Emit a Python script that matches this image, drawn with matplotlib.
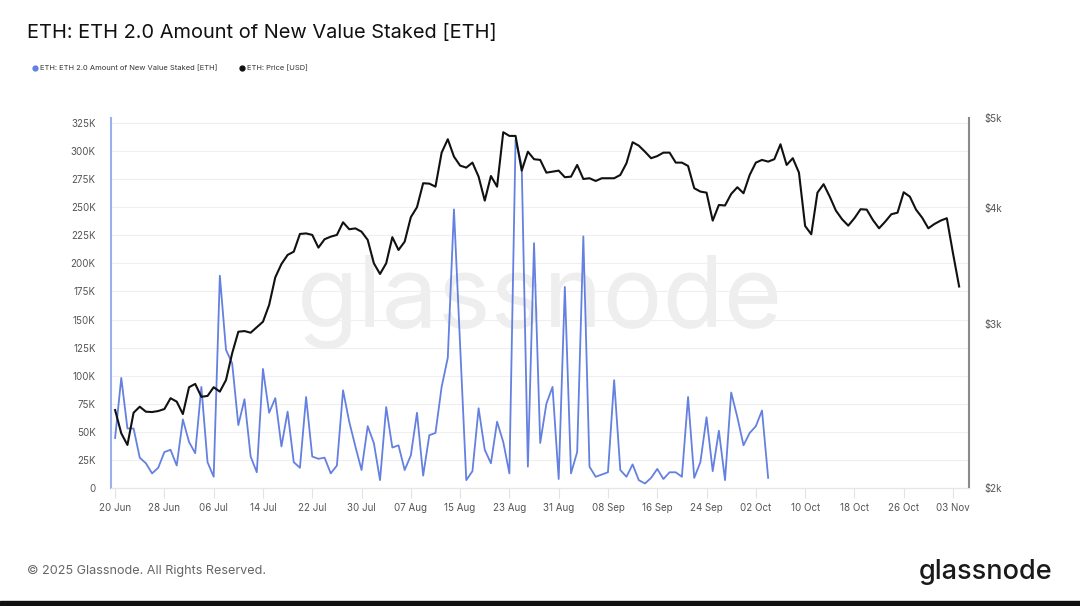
import numpy as np
import pandas as pd
import matplotlib
matplotlib.use("Agg")
import matplotlib.pyplot as plt
import matplotlib.dates as mdates
from matplotlib.lines import Line2D
from matplotlib.patches import Rectangle
from matplotlib.ticker import FixedLocator, FuncFormatter, NullLocator

plt.rcParams["font.family"] = ["Inter", "DejaVu Sans"]

START = "2025-06-20"

# new value staked per day, thousands of ETH (from 20 Jun)
staked_k = [44.5, 98, 53, 53, 27, 22, 13, 18, 32, 34,
            20, 61, 41, 31, 90, 23, 10, 189, 123, 111,
            56, 79, 28, 14, 106, 67, 80, 37, 68, 23,
            18, 81, 28, 26, 27, 13, 20, 87, 59, 37,
            16, 55, 40, 7, 72, 36, 38, 16, 29, 67,
            11, 47, 49, 90, 116, 248, 127, 7, 15, 71,
            34, 22, 59, 41, 13, 310, 287, 19, 218, 40,
            75, 90, 8, 179, 13, 32, 224, 19, 10, 12,
            14, 96, 16, 10, 21, 7, 4, 9, 17, 8,
            14, 14, 10, 81, 9, 23, 63, 15, 51, 7,
            85, 63, 38, 49, 55, 69, 9]

# ETH price, USD (from 20 Jun)
price_usd = [2426, 2290, 2225, 2410, 2446, 2416, 2414, 2420, 2432, 2498,
             2477, 2402, 2567, 2588, 2507, 2512, 2567, 2539, 2613, 2792,
             2945, 2950, 2938, 2978, 3019, 3147, 3370, 3483, 3562, 3591,
             3752, 3757, 3743, 3627, 3703, 3727, 3743, 3862, 3796, 3804,
             3773, 3697, 3489, 3398, 3489, 3722, 3606, 3681, 3911, 4009,
             4254, 4250, 4218, 4589, 4744, 4544, 4444, 4422, 4477, 4324,
             4075, 4331, 4218, 4827, 4783, 4783, 4389, 4600, 4515, 4507,
             4367, 4378, 4389, 4318, 4324, 4451, 4299, 4307, 4278, 4307,
             4307, 4307, 4342, 4470, 4709, 4669, 4600, 4526, 4550, 4589,
             4589, 4477, 4477, 4440, 4202, 4167, 4156, 3878, 4031, 4026,
             4143, 4212, 4150, 4342, 4477, 4507, 4488, 4515, 4685, 4451,
             4526, 4367, 3827, 3749, 4156, 4244, 4115, 3975, 3891, 3830,
             3901, 3989, 3985, 3884, 3805, 3868, 3940, 3955, 4160, 4115,
             3985, 3906, 3805, 3846, 3878, 3901, 3577, 3294]

left_ticks = list(range(0, 325001, 25000))
right_ticks = [2000, 3000, 4000, 5000]
right_labels = ["$2k", "$3k", "$4k", "$5k"]

BLUE = "#6480e0"
GRAY_TXT = "#555555"

staked_dates = pd.date_range(START, periods=len(staked_k), freq="D")
price_dates = pd.date_range(START, periods=len(price_usd), freq="D")
staked = np.asarray(staked_k) * 1000

fig = plt.figure(figsize=(10.8, 6.06), dpi=100)
ax = fig.add_axes([111 / 1080, 1 - 488 / 606, 858 / 1080, 370 / 606])
ax2 = ax.twinx()

ax.plot(staked_dates, staked, color=BLUE, linewidth=1.3, zorder=3)
ax2.plot(price_dates, price_usd, color="#111111", linewidth=1.5, zorder=4)

t0 = pd.Timestamp(START)
ax.set_xlim(t0 - pd.Timedelta(hours=16), t0 + pd.Timedelta(days=138.6))
ax.set_ylim(0, 329400)
ax.yaxis.set_major_locator(FixedLocator(left_ticks))
ax.yaxis.set_major_formatter(FuncFormatter(lambda v, p: "0" if v == 0 else f"{int(v / 1000)}K"))
ax.grid(axis="y", color="#efefef", linewidth=0.8, zorder=0)
ax.tick_params(axis="y", length=0, pad=11, labelsize=7, labelcolor=GRAY_TXT)

# date ticks every 8 days
ticks = pd.date_range(START, "2025-11-03", freq="8D")
ax.xaxis.set_major_locator(FixedLocator(mdates.date2num(ticks)))
ax.xaxis.set_major_formatter(mdates.DateFormatter("%d %b"))
ax.tick_params(axis="x", length=7, color="#e3e3e3", width=0.8, pad=4,
               labelsize=7, labelcolor=GRAY_TXT)

ax2.set_yscale("log")
ax2.set_ylim(2000, 5000)
ax2.yaxis.set_major_locator(FixedLocator(right_ticks))
ax2.yaxis.set_major_formatter(FuncFormatter(lambda v, p: right_labels[right_ticks.index(int(round(v)))]))
ax2.yaxis.set_minor_locator(NullLocator())
ax2.tick_params(axis="y", length=0, pad=11, labelsize=7, labelcolor=GRAY_TXT)

for a in (ax, ax2):
    a.spines["top"].set_visible(False)
    a.spines["bottom"].set_color("#e6e6e6")
ax.spines["right"].set_visible(False)
ax.spines["left"].set_color("#9db0ee")
ax.spines["left"].set_linewidth(1.5)
ax2.spines["left"].set_visible(False)
ax2.spines["right"].set_color("#8a8a8a")
ax2.spines["right"].set_linewidth(1.5)

# watermark
ax.text(0.5, 0.435, "glassnode", transform=ax.transAxes, ha="center", va="baseline",
        fontsize=72, color="#eeeeee", zorder=1)

fig.text(27 / 1080, 1 - 33 / 606, "ETH: ETH 2.0 Amount of New Value Staked [ETH]",
         fontsize=14.4, color="#111111", va="center", ha="left")

# legend
fig.add_artist(Line2D([35 / 1080], [1 - 68 / 606], marker="o", markersize=3.5,
                      color=BLUE, transform=fig.transFigure))
fig.text(40 / 1080, 1 - 68 / 606, "ETH: ETH 2.0 Amount of New Value Staked [ETH]",
         fontsize=5.45, color="#333333", va="center")
fig.add_artist(Line2D([242 / 1080], [1 - 68 / 606], marker="o", markersize=3.5,
                      color="#111111", transform=fig.transFigure))
fig.text(247 / 1080, 1 - 68 / 606, "ETH: Price [USD]",
         fontsize=5.45, color="#333333", va="center")

fig.text(27 / 1080, 1 - 571 / 606, "\u00a9 2025 Glassnode. All Rights Reserved.",
         fontsize=9.1, color="#666666", va="center")
fig.text(1052 / 1080, 1 - 572 / 606, "glassnode", fontsize=19.5, color="#1a1a1a",
         fontweight="medium", va="center", ha="right")

fig.add_artist(Rectangle((0, 0), 1, 5 / 606, transform=fig.transFigure,
                         color="#111111", zorder=10))

fig.savefig("out.png", dpi=100)
